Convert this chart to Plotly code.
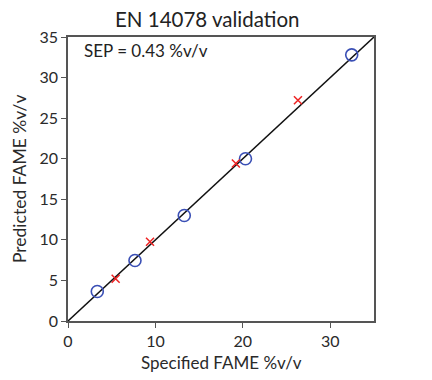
import plotly.graph_objects as go

cal_specified = [3.35, 7.66, 13.3, 20.3, 32.45]
cal_predicted = [3.64, 7.46, 13.0, 20.0, 32.8]
val_specified = [5.45, 9.38, 19.2, 26.3]
val_predicted = [5.2, 9.76, 19.4, 27.2]
line_x = [0, 35]
line_y = [0, 35]
tick_vals_x = [0, 10, 20, 30]
tick_vals_y = [0, 5, 10, 15, 20, 25, 30, 35]

FONT = "Lato, Open Sans, DejaVu Sans, sans-serif"
TXT = "#2a2a2a"
fig = go.Figure()
fig.add_trace(go.Scatter(x=line_x, y=line_y, mode="lines",
                         line=dict(color="#111111", width=1.5), showlegend=False))
fig.add_trace(go.Scatter(x=cal_specified, y=cal_predicted, mode="markers",
                         marker=dict(symbol="circle-open", size=12, color="#3a4fb5",
                                     line=dict(width=1.6, color="#3a4fb5")),
                         showlegend=False))
fig.add_trace(go.Scatter(x=val_specified, y=val_predicted, mode="markers",
                         marker=dict(symbol="x-thin-open", size=8, color="#ee2222",
                                     line=dict(width=1.5, color="#ee2222")),
                         showlegend=False))

axis_common = dict(showgrid=False, zeroline=False, showline=True, mirror=True,
                   linecolor="#555555", linewidth=1.5, ticks="outside", ticklen=5,
                   tickcolor="#555555", automargin=False,
                   tickfont=dict(family=FONT, size=16, color=TXT))
fig.update_xaxes(range=[0, 35], tickvals=tick_vals_x, **axis_common)
fig.update_yaxes(range=[0, 35], tickvals=tick_vals_y, **axis_common)

fig.add_annotation(text="Specified FAME %v/v", xref="paper", yref="paper", x=0.5, y=-0.146,
                   xanchor="center", yanchor="middle", showarrow=False,
                   font=dict(family=FONT, size=17, color=TXT))
fig.add_annotation(text="Predicted FAME %v/v", xref="paper", yref="paper", x=-0.160, y=0.5,
                   xanchor="center", yanchor="middle", showarrow=False, textangle=-90,
                   font=dict(family=FONT, size=17.5, color=TXT))
fig.add_annotation(text="SEP = 0.43 %v/v", xref="paper", yref="paper", x=0.046, y=0.954,
                   xanchor="left", yanchor="middle", showarrow=False,
                   font=dict(family=FONT, size=17, color="#222222"))
fig.add_annotation(text="EN 14078 validation", xref="paper", yref="paper", x=0.455, y=1.0,
                   xanchor="center", yanchor="bottom", yshift=4, showarrow=False,
                   font=dict(family=FONT, size=20.5, color="#222222"))

fig.update_layout(
    width=416, height=364,
    margin=dict(l=60, r=50, t=29, b=51),
    paper_bgcolor="white", plot_bgcolor="white",
)
fig.write_html("out.html")
